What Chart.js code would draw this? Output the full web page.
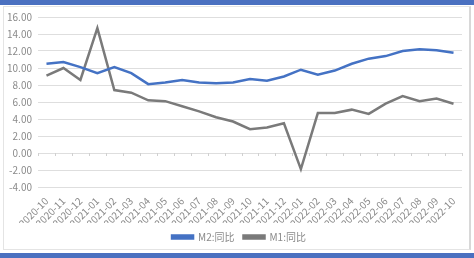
<!DOCTYPE html>
<html>
<head>
<meta charset="utf-8">
<script src="https://cdn.jsdelivr.net/npm/chart.js@4.4.0/dist/chart.umd.min.js"></script>
<style>
  html, body { margin: 0; padding: 0; background: #fff; }
  #wrap { position: relative; width: 474px; height: 258px; overflow: hidden; background: #fff; }
  .bar { position: absolute; left: 0; width: 474px; background: #4a70c0; }
  #panel { position: absolute; left: 3px; top: 6px; width: 468px; height: 244px;
           border: 1px solid #e4e4e4; border-right: 2px solid #d8d8d8; box-sizing: border-box; }
  canvas { position: absolute; left: 0; top: 0; }
</style>
</head>
<body>
<div id="wrap">
  <div class="bar" style="top:0;height:5px;"></div>
  <div id="panel"></div>
  <div class="bar" style="top:253px;height:5px;"></div>
  <canvas id="chart" width="478" height="258"></canvas>
</div>
<script>
const months = ['2020-10', '2020-11', '2020-12', '2021-01', '2021-02', '2021-03', '2021-04',
    '2021-05', '2021-06', '2021-07', '2021-08', '2021-09', '2021-10', '2021-11', '2021-12',
    '2022-01', '2022-02', '2022-03', '2022-04', '2022-05', '2022-06', '2022-07', '2022-08',
    '2022-09', '2022-10'];
const m2 = [10.5, 10.7, 10.1, 9.4, 10.1, 9.4, 8.1, 8.3, 8.6, 8.3, 8.2, 8.3, 8.7, 8.5, 9.0,
    9.8, 9.2, 9.7, 10.5, 11.1, 11.4, 12.0, 12.2, 12.1, 11.8];
const m1 = [9.1, 10.0, 8.6, 14.7, 7.4, 7.1, 6.2, 6.1, 5.5, 4.9, 4.2, 3.7, 2.8, 3.0, 3.5,
    -1.9, 4.7, 4.7, 5.1, 4.6, 5.8, 6.7, 6.1, 6.4, 5.8];
const yMin = -4, yMax = 16, yStep = 2;

const fontFamily = '"Noto Sans CJK SC", "Noto Sans", sans-serif';
const textColor = '#8a8a8a';

// little tick marks on the zero line, like the Excel category axis
const zeroTicks = {
    id: 'zeroTicks',
    afterDatasetsDraw(chart) {
        const x = chart.scales.x, y = chart.scales.y;
        const y0 = y.getPixelForValue(0);
        const ctx = chart.ctx;
        ctx.save();
        ctx.strokeStyle = '#d0d0d0';
        ctx.lineWidth = 1;
        ctx.beginPath();
        for (let i = 0; i <= months.length; i++) {
            const px = Math.round(x.getPixelForValue(i - 0.5)) + 0.5;
            ctx.moveTo(px, y0);
            ctx.lineTo(px, y0 + 3);
        }
        ctx.stroke();
        ctx.restore();
    }
};

new Chart(document.getElementById('chart').getContext('2d'), {
    type: 'line',
    data: {
        labels: months,
        datasets: [{
            label: 'M2:同比',
            data: m2,
            borderColor: '#4472c4',
            backgroundColor: '#4472c4',
            borderWidth: 2.5,
            pointRadius: 0,
            tension: 0
        }, {
            label: 'M1:同比',
            data: m1,
            borderColor: '#7a7a7a',
            backgroundColor: '#7a7a7a',
            borderWidth: 2.5,
            pointRadius: 0,
            tension: 0
        }]
    },
    options: {
        responsive: false,
        animation: false,
        layout: { padding: { left: 0, top: 17, right: 0, bottom: 6 } },
        scales: {
            x: {
                offset: true,
                grid: { display: false },
                border: { display: false },
                ticks: {
                    color: textColor,
                    font: { family: fontFamily, size: 10 },
                    maxRotation: 45,
                    minRotation: 45,
                    autoSkip: false,
                    padding: 0
                },
                afterFit(scale) { scale.height = 36; }
            },
            y: {
                min: yMin,
                max: yMax,
                grid: { color: '#dedede', drawTicks: false },
                border: { display: false },
                ticks: {
                    stepSize: yStep,
                    color: textColor,
                    font: { family: fontFamily, size: 10 },
                    padding: 6,
                    callback: v => v.toFixed(2)
                },
                afterFit(scale) { scale.width = 38; }
            },
            // empty right axis, only keeps space so the legend sits centred like the original
            yRight: {
                position: 'right',
                min: yMin,
                max: yMax,
                grid: { display: false },
                border: { display: false },
                ticks: { display: false },
                afterFit(scale) { scale.width = 16; }
            }
        },
        plugins: {
            legend: {
                position: 'bottom',
                labels: {
                    boxWidth: 21,
                    boxHeight: 3,
                    color: textColor,
                    font: { family: fontFamily, size: 10 },
                    padding: 9
                }
            },
            tooltip: { enabled: false }
        }
    },
    plugins: [zeroTicks]
});
</script>
</body>
</html>
